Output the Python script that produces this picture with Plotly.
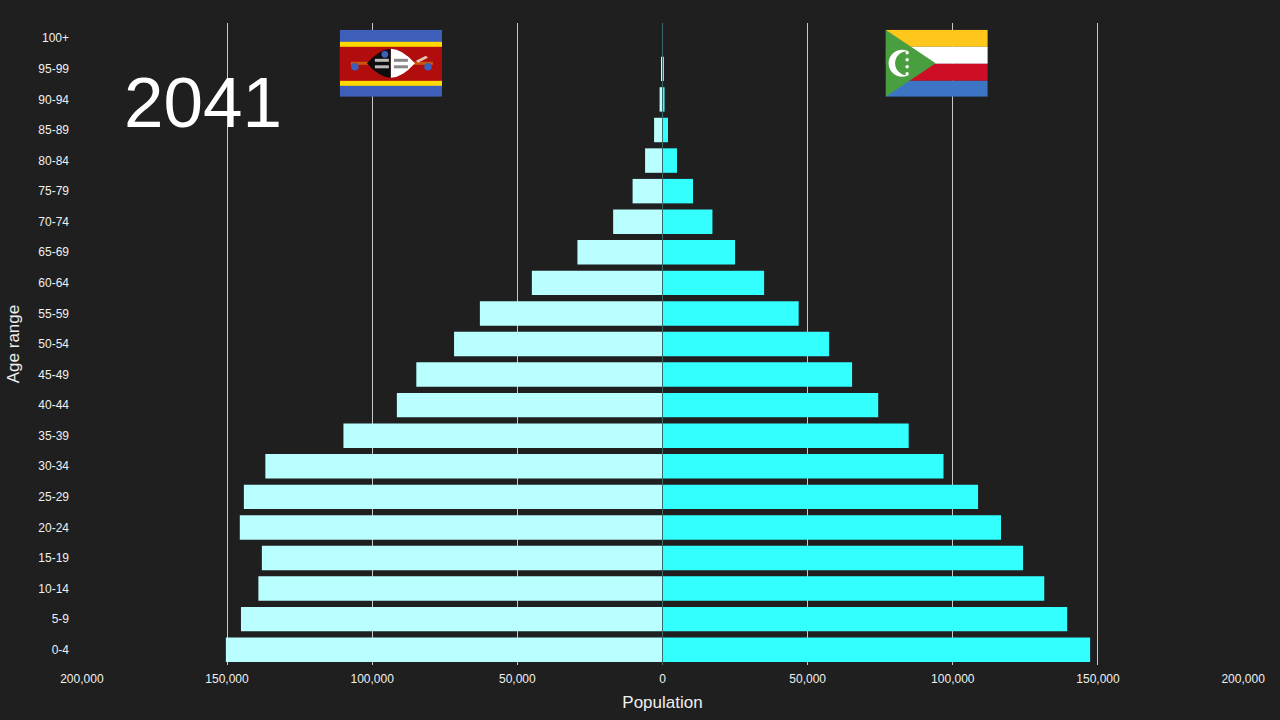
import base64
import plotly.graph_objects as go

age_groups = ["0-4", "5-9", "10-14", "15-19", "20-24", "25-29", "30-34", "35-39", "40-44", "45-49",
              "50-54", "55-59", "60-64", "65-69", "70-74", "75-79", "80-84", "85-89", "90-94", "95-99", "100+"]
eswatini = [150400, 145200, 139200, 138000, 145600, 144200, 136800, 109900, 91500, 84800,
            71800, 62900, 45000, 29300, 17000, 10300, 6000, 2900, 1000, 300, 100]
comoros = [147300, 139400, 131500, 124200, 116600, 108700, 96800, 84800, 74300, 65300,
           57400, 46900, 35000, 25000, 17200, 10500, 5000, 1900, 700, 200, 100]
pop_ticks = [-200000, -150000, -100000, -50000, 0, 50000, 100000, 150000, 200000]
year_label = "2041"

BG = "#1f1f1f"
FONT = "Liberation Sans, Arial, sans-serif"
TEXT = "#f0f0f0"


def svg_uri(svg):
    return "data:image/svg+xml;base64," + base64.b64encode(svg.encode()).decode()


eswatini_flag = """<svg xmlns="http://www.w3.org/2000/svg" width="306" height="201" viewBox="0 0 102 67">
<defs><filter id="s"><feGaussianBlur stdDeviation="0.4"/></filter></defs>
<g filter="url(#s)">
<rect width="102" height="67" fill="#3e5eb9"/>
<rect y="12" width="102" height="44" fill="#ffd900"/>
<rect y="17" width="102" height="34" fill="#b10c0c"/>
<rect x="11" y="32" width="82" height="3" fill="#c8560f"/>
<path d="M76 31 l10 -5 l2 2 l-10 5z" fill="#e8c8b0"/>
<circle cx="15" cy="37" r="3.8" fill="#3e5eb9"/>
<circle cx="88" cy="37" r="3.8" fill="#3e5eb9"/>
<path d="M27 33.5 Q40 19 51 19 L51 48 Q40 48 27 33.5z" fill="#0a0a0a"/>
<path d="M75 33.5 Q62 19 51 19 L51 48 Q62 48 75 33.5z" fill="#fff"/>
<circle cx="45" cy="24.5" r="3.4" fill="#3e5eb9"/>
<rect x="35" y="29" width="14" height="3" fill="#bbb"/><rect x="35" y="35.5" width="14" height="3" fill="#bbb"/>
<rect x="54" y="29" width="14" height="3" fill="#888"/><rect x="54" y="35.5" width="14" height="3" fill="#888"/>
</g></svg>"""

comoros_flag = """<svg xmlns="http://www.w3.org/2000/svg" width="306" height="201" viewBox="0 0 102 67">
<defs><filter id="s"><feGaussianBlur stdDeviation="0.35"/></filter></defs>
<g filter="url(#s)">
<rect width="102" height="17" fill="#ffc61e"/>
<rect y="17" width="102" height="17" fill="#ffffff"/>
<rect y="34" width="102" height="17" fill="#ce1126"/>
<rect y="51" width="102" height="16" fill="#3a75c4"/>
<path d="M0 0 L50 33.5 L0 67z" fill="#4a9e40"/>
<circle cx="16.5" cy="33.5" r="13.5" fill="#fff"/>
<circle cx="21.5" cy="33.5" r="12" fill="#4a9e40"/>
<g fill="#fff"><circle cx="21.5" cy="23" r="1.7"/><circle cx="21.5" cy="30" r="1.7"/><circle cx="21.5" cy="37" r="1.7"/><circle cx="21.5" cy="44" r="1.7"/></g>
</g></svg>"""

fig = go.Figure()
fig.add_bar(y=age_groups, x=[-v for v in eswatini], orientation="h", marker=dict(color="#b9ffff", line_width=0),
            name="Eswatini", showlegend=False)
fig.add_bar(y=age_groups, x=comoros, orientation="h", marker=dict(color="#33ffff", line_width=0),
            name="Comoros", showlegend=False)

# Thin centre line sits above the bars
fig.add_shape(type="line", x0=0, x1=0, xref="x", y0=0, y1=1, yref="paper",
              line=dict(color="#3a6b6b", width=1), layer="above")

fig.add_annotation(text=year_label, xref="paper", yref="paper", x=0, y=1, showarrow=False,
                   xshift=41, yshift=-38, xanchor="left", yanchor="top",
                   font=dict(family=FONT, size=71, color="#ffffff"))

fig.add_layout_image(source=svg_uri(eswatini_flag), xref="x", yref="paper", x=-111155, y=0.9894,
                     sizex=35200, sizey=67 / 642, xanchor="left", yanchor="top", sizing="stretch", layer="above")
fig.add_layout_image(source=svg_uri(comoros_flag), xref="x", yref="paper", x=76845, y=0.9894,
                     sizex=35200, sizey=67 / 642, xanchor="left", yanchor="top", sizing="stretch", layer="above")

fig.update_layout(
    width=1280, height=720,
    margin=dict(l=81, r=36, t=23, b=55),
    barmode="overlay", bargap=0.2,
    paper_bgcolor=BG, plot_bgcolor=BG,
    font=dict(family=FONT, size=12, color=TEXT),
    xaxis=dict(range=[-200300, 200300], tickvals=pop_ticks,
               ticktext=[f"{abs(v):,}" for v in pop_ticks],
               showgrid=True, gridcolor="#c8c8c8", gridwidth=1, zeroline=False, showline=False,
               ticks="", ticklabelstandoff=5, tickfont=dict(size=12, color=TEXT),
               title=dict(text="Population", font=dict(size=17, color=TEXT), standoff=11)),
    yaxis=dict(type="category", categoryorder="array", categoryarray=age_groups,
               range=[-0.5, 20.5], showgrid=False, zeroline=False, showline=False,
               ticks="", ticklen=0, ticklabelstandoff=11, tickfont=dict(size=12, color=TEXT),
               title=dict(text="Age range", font=dict(size=17, color=TEXT), standoff=14)),
)

fig.write_html("out.html")
